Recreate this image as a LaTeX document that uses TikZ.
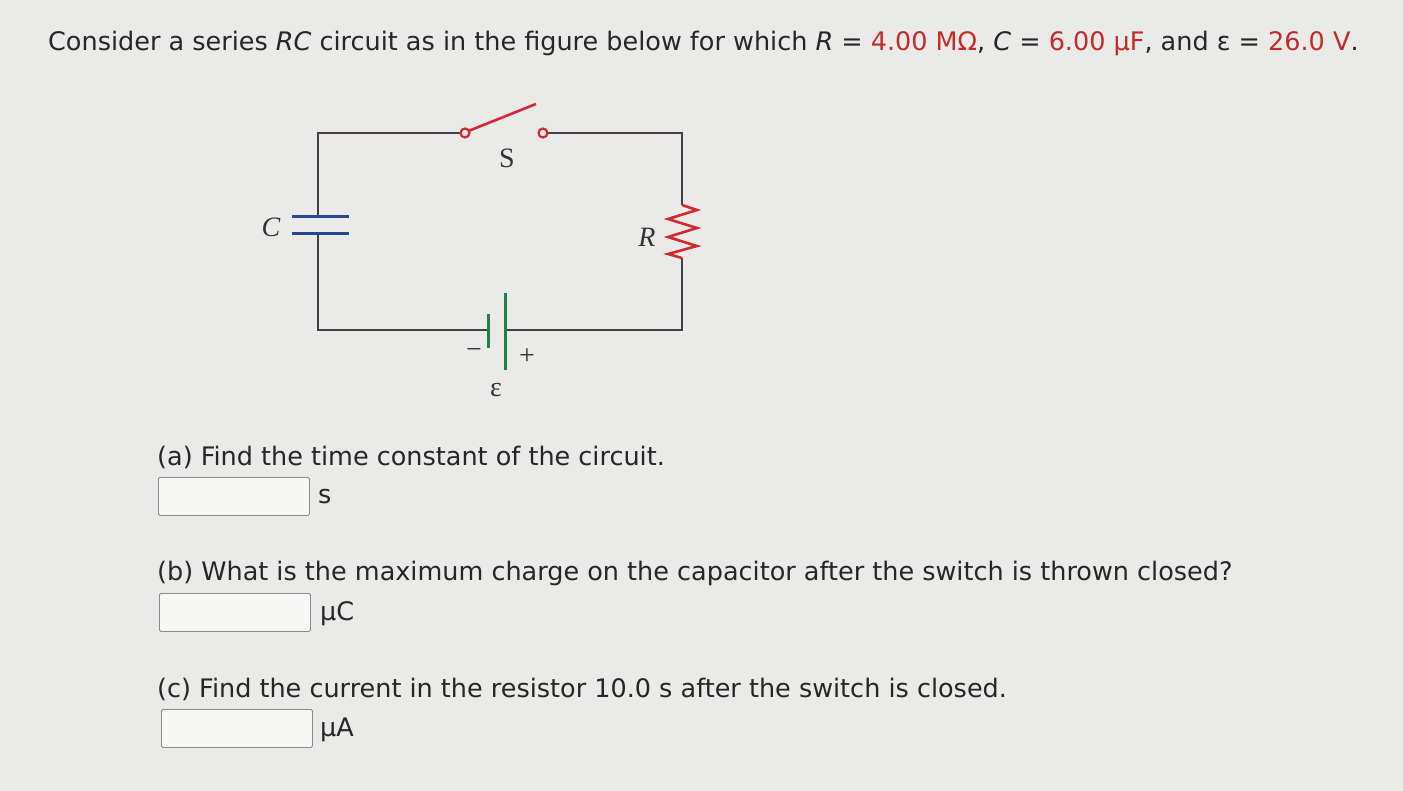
\documentclass[tikz,border=0pt]{standalone}
\usepackage{fontspec}
\setmainfont{DejaVu Sans}
\newfontfamily\serifc{Liberation Serif}
\usetikzlibrary{calc}
\definecolor{bg}{RGB}{234,234,232}
\definecolor{val}{RGB}{196,42,42}
\definecolor{wire}{RGB}{70,60,70}
\definecolor{capc}{RGB}{40,70,150}
\definecolor{batc}{RGB}{30,130,70}
\definecolor{swc}{RGB}{210,40,50}
\tikzset{
  wire/.style={draw=wire,line width=2pt},
  txt/.style={anchor=base west,inner sep=0,font=\fontsize{25.5}{28}\selectfont,text=black!85},
  lab/.style={inner sep=0,font=\serifc\fontsize{28}{30}\selectfont,text=black!80},
  ansbox/.style={draw=black!45,fill=white!60!bg,line width=0.8pt,rounded corners=1.5pt,minimum width=151pt,minimum height=38pt,anchor=north west,inner sep=0},
}
\begin{document}
\begin{tikzpicture}[x=1pt,y=-1pt]
\fill[bg] (0,0) rectangle (1403,791);
\useasboundingbox (0,0) rectangle (1403,791);
\node[txt] (q) at (48,51) {Consider a series \textit{RC} circuit as in the figure below for which \textit{R} = \textcolor{val}{4.00 MΩ}, \textit{C} = \textcolor{val}{6.00 μF}, and ε = \textcolor{val}{26.0 V}.};
% circuit
\coordinate (tl) at (318,133); \coordinate (tr) at (682,133);
\coordinate (bl) at (318,330); \coordinate (br) at (682,330);
\coordinate (s1) at (465,133); \coordinate (s2) at (543,133);
\coordinate (sb) at (536,104);
\coordinate (c1) at (318,217); \coordinate (c2) at (318,234);
\coordinate (r1) at (682,205); \coordinate (r2) at (682,258);
\coordinate (b1) at (488,330); \coordinate (b2) at (505,330);
\draw[wire] (c1) -- (tl) -- ($(s1)+(-4,0)$);
\draw[wire] ($(s2)+(4,0)$) -- (tr) -- (r1);
\draw[wire] (r2) -- (br) -- (b2);
\draw[wire] (b1) -- (bl) -- (c2);
\draw[capc,line width=3pt] (292,217) -- (349,217) (292,234) -- (349,234);
\draw[swc,line width=2.6pt] (r1) -- (697,210) -- (668,219) -- (697,228) -- (668,237) -- (697,246) -- (668,254) -- (r2);
\draw[batc,line width=3pt] (488,314) -- (488,348) (505,293) -- (505,370);
\draw[swc,line width=2.6pt] ($(s1)+(3.5,-2)$) -- (sb);
\draw[swc,line width=2.2pt,fill=bg] (s1) circle (4.5) (s2) circle (4.5);
\node[lab] (lc) at (271,227) {\textit{C}};
\node[lab] (ls) at (507,158) {S};
\node[lab] (lr) at (647,237) {\textit{R}};
\node[lab] (lm) at (474,354) {−};
\node[lab] (lp) at (527,357) {+};
\node[lab] (le) at (496,390) {ε};
% questions
\node[txt] (a) at (157,465) {(a) Find the time constant of the circuit.};
\node[ansbox] (ba) at (158,477) {};
\node[txt] (ua) at (318,503) {s};
\node[txt] (b) at (157,580) {(b) What is the maximum charge on the capacitor after the switch is thrown closed?};
\node[ansbox] (bb) at (159,593) {};
\node[txt] (ub) at (320,620) {μC};
\node[txt] (c) at (157,697) {(c) Find the current in the resistor 10.0 s after the switch is closed.};
\node[ansbox] (bc) at (161,709) {};
\node[txt] (uc) at (320,736) {μA};
\end{tikzpicture}
\end{document}
